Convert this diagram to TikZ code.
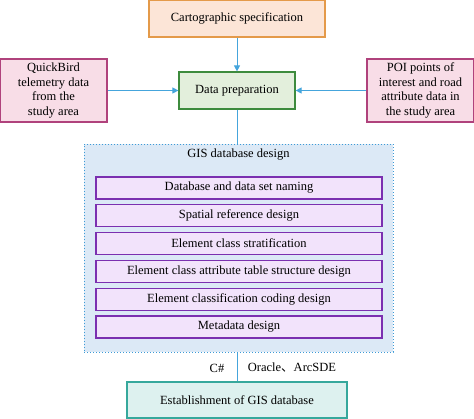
\documentclass[tikz,border=0pt]{standalone}
\usepackage{fontspec}
\setmainfont{Liberation Serif}
\newfontfamily\cjk{Noto Sans CJK SC}
\usetikzlibrary{arrows.meta}

\definecolor{specfill}{HTML}{FCE5D7}
\definecolor{specline}{HTML}{E49A4A}
\definecolor{prepfill}{HTML}{E3EFDC}
\definecolor{prepline}{HTML}{3D8B3D}
\definecolor{srcfill}{HTML}{F8DDE7}
\definecolor{srcline}{HTML}{B0427C}
\definecolor{gisfill}{HTML}{DCE9F6}
\definecolor{gisline}{HTML}{3D9BD6}
\definecolor{stepfill}{HTML}{F2E3FB}
\definecolor{stepline}{HTML}{7B30B0}
\definecolor{estfill}{HTML}{DDF1EF}
\definecolor{estline}{HTML}{36A89C}
\definecolor{linkcol}{HTML}{45A5DC}

\tikzset{
  txt/.style={font=\fontsize{12.5}{14.5}\selectfont},
  box/.style={draw,line width=1.2pt,align=center,inner sep=2pt,txt},
  link/.style={draw=linkcol,line width=1pt},
  flow/.style={link,-{Triangle[length=6pt,width=6pt]}}
}

\begin{document}
\begin{tikzpicture}[x=1pt,y=-1pt]
		\useasboundingbox (0,0) rectangle (474,418);

		\node (spec) at (237,18.5) [box,draw=specline,fill=specfill,minimum width=176pt,minimum height=37pt] {Cartographic specification};
		\node (prep) at (237,90.5) [box,draw=prepline,fill=prepfill,minimum width=116pt,minimum height=37pt] {Data preparation};
		\node (quick) at (53.5,90.5) [box,draw=srcline,fill=srcfill,minimum width=107pt,minimum height=63pt] {QuickBird\\telemetry data\\from the\\study area};
		\node (poi) at (420.5,90.5) [box,draw=srcline,fill=srcfill,minimum width=107pt,minimum height=63pt] {POI points of\\interest and road\\attribute data in\\the study area};

		% GIS database design block
		\node (gis) at (238.5,248) [draw=gisline,fill=gisfill,line width=1pt,dotted,minimum width=309pt,minimum height=208pt] {};
		\node (gistitle) at (238.5,155) [txt] {GIS database design};
		\foreach \name/\label [count=\i from 0] in {naming/Database and data set naming,
			spatial/Spatial reference design,
			strat/Element class stratification,
			attr/Element class attribute table structure design,
			coding/Element classification coding design,
			meta/Metadata design}
			\node (\name) at (239,188+27.8*\i) [box,draw=stepline,fill=stepfill,minimum width=286pt,minimum height=22pt] {\label};

		\node (est) at (237,400) [box,draw=estline,fill=estfill,minimum width=220pt,minimum height=36pt] {Establishment of GIS database};
		\node (csharp) at (217,368) [txt] {C\#};
		\node (oracle) at (292,368) [txt] {Oracle{\cjk 、}ArcSDE};

		\draw [flow] (spec) -- (prep);
		\draw [flow] (quick) -- (prep);
		\draw [flow] (poi) -- (prep);
		\draw [link] (prep.south) -- (prep.south |- gis.north);
		\draw [link] (est.north |- gis.south) -- (est.north);
	\end{tikzpicture}
\end{document}
